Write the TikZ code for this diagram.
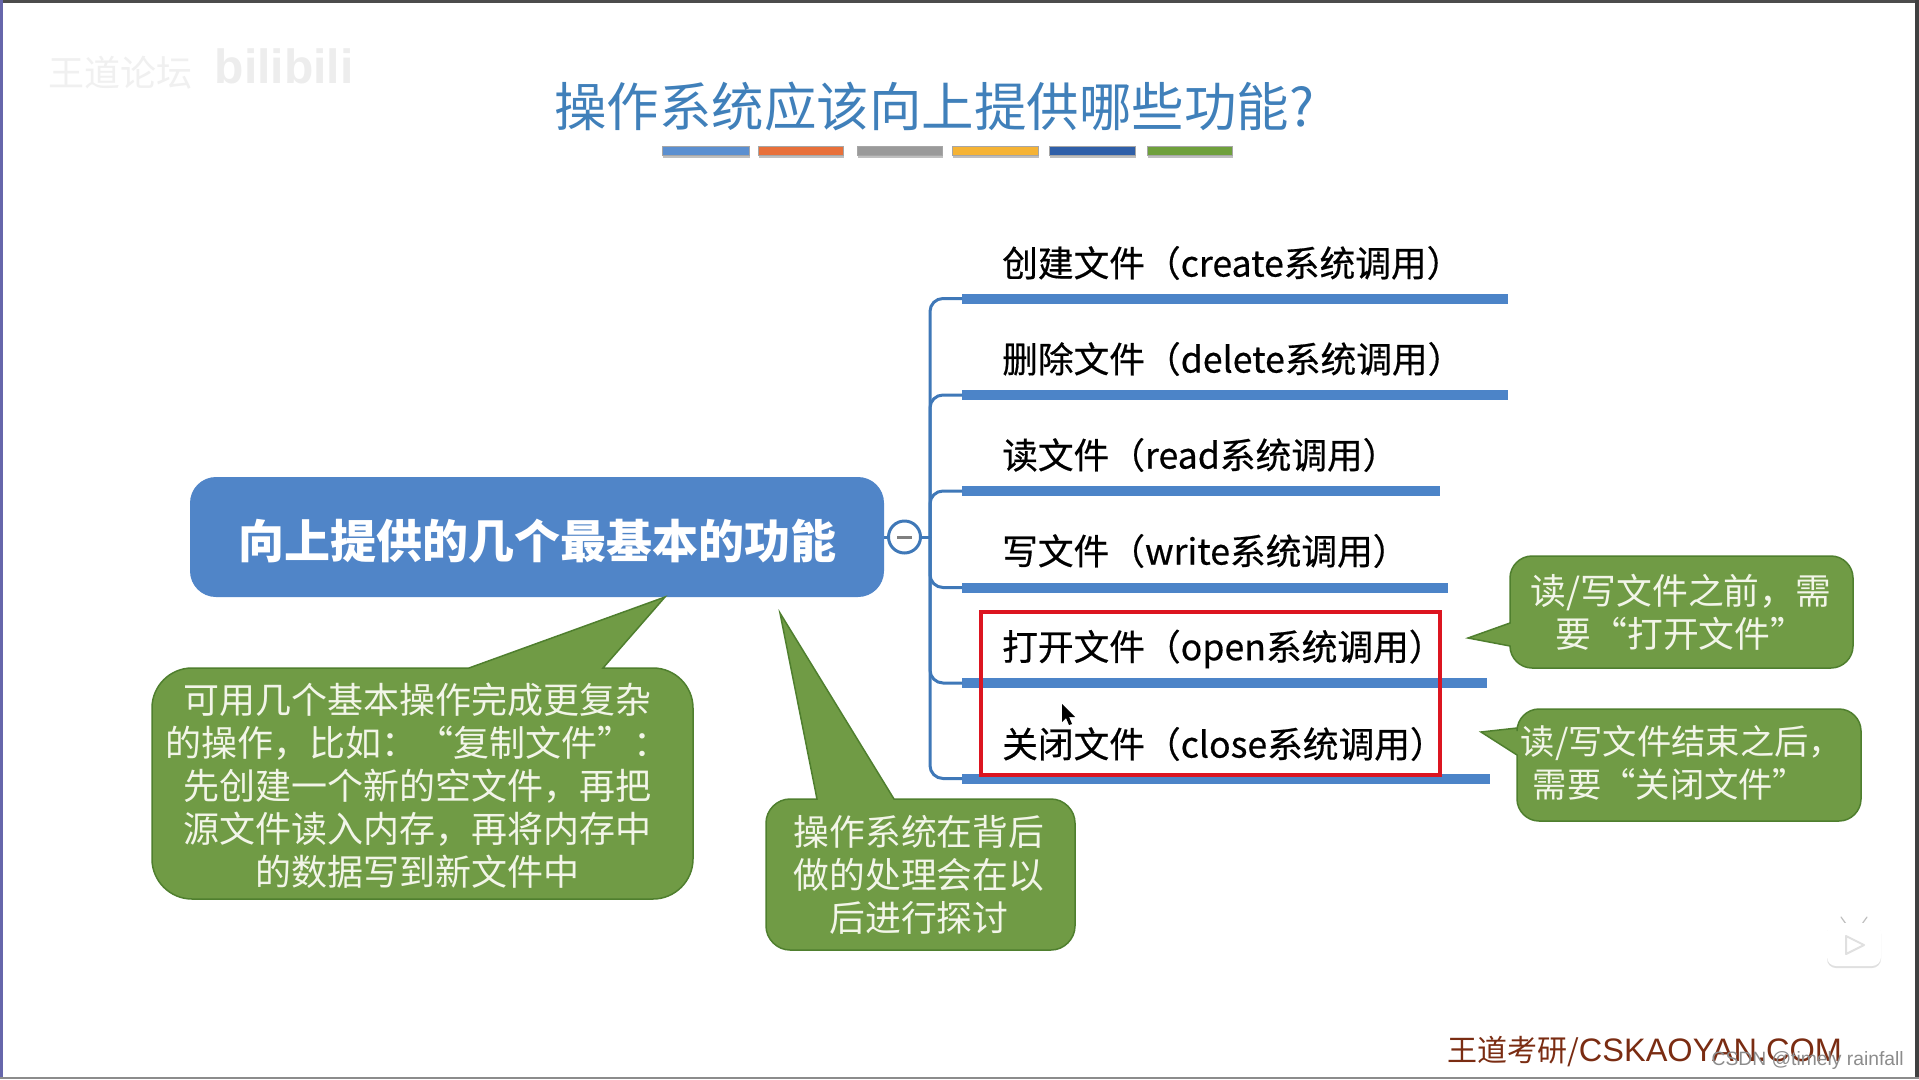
\documentclass[tikz,border=0pt]{standalone}
\usepackage{fontspec}
\setmainfont{Noto Sans CJK SC}
\newfontfamily\latinf{Liberation Sans}
\newfontfamily\itemf{Noto Sans CJK SC}[FakeBold=0.5]
\usetikzlibrary{calc}
\definecolor{mainblue}{HTML}{5085C8}
\definecolor{linkblue}{HTML}{3F78B8}
\definecolor{barblue}{HTML}{4C84C8}
\definecolor{titleblue}{HTML}{4080BA}
\definecolor{callgreen}{HTML}{709B45}
\definecolor{calledge}{HTML}{4F7F2E}
\definecolor{calltext}{HTML}{F2F5E8}
\definecolor{boxred}{HTML}{DC1520}
\definecolor{footred}{HTML}{7A2C12}
\tikzset{
  x=1pt,y=-1pt,
  titlebar/.style={rectangle,minimum height=9pt,inner sep=0pt,anchor=center,draw=black!35,line width=.6pt},
  branchbar/.style={rectangle,fill=barblue,minimum height=10pt,inner sep=0pt,anchor=west},
  link/.style={draw=linkblue,line width=3pt,rounded corners=13pt},
  itemtext/.style={anchor=west,inner sep=0pt,text=black,font=\itemf\fontsize{35.7}{42}\selectfont},
  callshape/.style={fill=callgreen,draw=calledge,line width=1.5pt,line join=miter},
  calltxt/.style={align=center,inner sep=0pt,text=calltext,font=\fontsize{35.8}{43}\selectfont},
}
\begin{document}
\begin{tikzpicture}
\useasboundingbox (0,0) rectangle (1919,1079);
\fill[white] (0,0) rectangle (1919,1079);
% window edges
\fill[black!70] (0,0) rectangle (1919,3);
\fill[black!55!blue!60] (0,0) rectangle (3,1079);
\fill[black!75] (1915,0) rectangle (1919,1079);
\fill[black!45] (0,1077) rectangle (1919,1079);
% watermarks
\node[inner sep=0pt,text=black!6,font=\fontsize{36}{40}\selectfont] (wm1) at (120,73) {王道论坛};
\node[inner sep=0pt,text=black!7,font=\latinf\bfseries\fontsize{48}{50}\selectfont] (wm2) at (284,66) {bilibili};
% title
\node[anchor=west,inner sep=0pt,text=titleblue,font=\fontsize{52.5}{60}\selectfont] (title) at (554,107) {操作系统应该向上提供哪些功能?};
\foreach \n/\xa/\xb/\c in {1/662/749/5B8FD0,2/758/843/E8703A,3/857/942/9A9A9A,4/952/1038/F5B335,5/1049/1135/2F5FA8,6/1147/1232/6FA03C}{
  \definecolor{tmpc}{HTML}{\c}
  \fill[black!25] (\xa+1,153) rectangle (\xb+1,158);
  \node[titlebar,fill=tmpc,minimum width={\xb-\xa}] (tb\n) at ({(\xa+\xb)/2},150.5) {};
}
% central node
\node[rectangle,rounded corners=26pt,fill=mainblue,minimum width=694pt,minimum height=120pt,inner sep=0pt,text=white,font=\bfseries\fontsize{46}{50}\selectfont] (main) at (537,537) {\raisebox{0pt}[42pt][0pt]{向上提供的几个最基本的功能}};
% branch bars
\node[branchbar,minimum width=546pt] (b1) at (962,298.5) {};
\node[branchbar,minimum width=546pt] (b2) at (962,395) {};
\node[branchbar,minimum width=478pt] (b3) at (962,491) {};
\node[branchbar,minimum width=486pt] (b4) at (962,587.5) {};
\node[branchbar,minimum width=525pt] (b5) at (962,683) {};
\node[branchbar,minimum width=528pt] (b6) at (962,778.5) {};
% connectors
\coordinate (hub) at (930,537);
\node[circle,draw=linkblue,fill=white,line width=3pt,minimum size=32pt,inner sep=0pt] (fold) at (904.5,537) {};
\draw[draw=black!50,line width=3pt] (897,537) -- (912,537);
\draw[link] (main.east) -- (fold.west);
\draw[link] (fold.east) -- (hub);
\foreach \n in {1,...,6}{\draw[link] (hub) |- (b\n.west);}
% item labels
\node[itemtext] (t1) at (1002,263) {创建文件（create系统调用）};
\node[itemtext] (t2) at (1002,359) {删除文件（delete系统调用）};
\node[itemtext] (t3) at (1002,455) {读文件（read系统调用）};
\node[itemtext] (t4) at (1002,551) {写文件（write系统调用）};
\node[itemtext] (t5) at (1002,649) {打开文件（open系统调用）};
\node[itemtext] (t6) at (1002,744) {关闭文件（close系统调用）};
% red box
\node[rectangle,draw=boxred,line width=3.5pt,minimum width=459pt,minimum height=163pt,inner sep=0pt] (redbox) at (1210.5,693.5) {};
% cursor
\fill[black] (1062,704) -- (1062,722) -- (1066,718) -- (1069,725) -- (1072,724) -- (1069,717) -- (1075,717) -- cycle;
% left callout
\draw[callshape] (665,597) -- (469,668) -- (192,668) .. controls (170,668) and (152,686) .. (152,708) -- (152,859) .. controls (152,881) and (170,899) .. (192,899) -- (653,899) .. controls (675,899) and (693,881) .. (693,859) -- (693,708) .. controls (693,686) and (675,668) .. (653,668) -- (603,668) -- cycle;
\node[calltxt,font=\fontsize{36}{43}\selectfont] (c1) at (417,786) {可用几个基本操作完成更复杂\\的操作，比如：“复制文件”：\\先创建一个新的空文件，再把\\源文件读入内存，再将内存中\\的数据写到新文件中};
% middle callout
\draw[callshape] (780,613) -- (817,799) -- (790,799) .. controls (777,799) and (766,810) .. (766,823) -- (766,926) .. controls (766,939) and (777,950) .. (790,950) -- (1051,950) .. controls (1064,950) and (1075,939) .. (1075,926) -- (1075,823) .. controls (1075,810) and (1064,799) .. (1051,799) -- (894,799) -- cycle;
\node[calltxt] (c2) at (919,875) {操作系统在背后\\做的处理会在以\\后进行探讨};
% right callouts
\draw[callshape] (1468,638) -- (1510,623) -- (1510,578) .. controls (1510,566) and (1520,556) .. (1532,556) -- (1831,556) .. controls (1843,556) and (1853,566) .. (1853,578) -- (1853,646) .. controls (1853,658) and (1843,668) .. (1831,668) -- (1532,668) .. controls (1520,668) and (1510,658) .. (1510,646) -- cycle;
\node[calltxt] (c3) at (1681,612) {读/写文件之前，需\\要“打开文件”};
\draw[callshape] (1481,732) -- (1517,728) -- (1517,731) .. controls (1517,719) and (1527,709) .. (1539,709) -- (1839,709) .. controls (1851,709) and (1861,719) .. (1861,731) -- (1861,799) .. controls (1861,811) and (1851,821) .. (1839,821) -- (1539,821) .. controls (1527,821) and (1517,811) .. (1517,799) -- (1517,755) -- cycle;
\node[calltxt,font=\fontsize{34.3}{43}\selectfont] (c4) at (1682,763) {读/写文件结束之后，\\需要“关闭文件”\hspace*{24pt}};
% play logo
\draw[black!25,line width=1.2pt,line cap=round] (1841,917) -- (1846,924);
\draw[black!25,line width=1.2pt,line cap=round] (1867,917) -- (1862,924);
\fill[black!12,rounded corners=9pt] (1827,925) rectangle (1881,968);
\fill[white,rounded corners=9pt] (1827,923) rectangle (1881,966);
\draw[black!12,line width=2pt,line join=round,fill=white] (1846,936) -- (1864,945) -- (1846,954) -- cycle;
% footer
\node[anchor=west,inner sep=0pt,text=footred,font=\fontsize{30}{34}\selectfont] (foot) at (1447,1052) {王道考研/{\latinf\fontsize{32.5}{34}\selectfont CSKAOYAN.COM}};
\node[anchor=east,inner sep=0pt,text=black!45,font=\latinf\fontsize{19.3}{24}\selectfont] (csdn) at (1904,1060) {CSDN @timely rainfall};
\end{tikzpicture}
\end{document}
